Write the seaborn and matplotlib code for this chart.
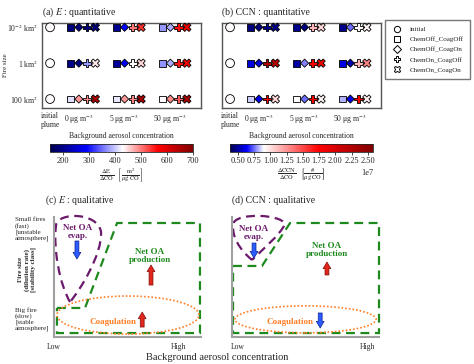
import numpy as np
import pandas as pd
import seaborn as sns
import matplotlib
matplotlib.use("Agg")
import matplotlib.pyplot as plt
from matplotlib.colors import TwoSlopeNorm
from matplotlib.cm import ScalarMappable
from matplotlib.lines import Line2D
from matplotlib.patches import Ellipse, Polygon, PathPatch
from matplotlib.path import Path

# ---- data: quantitative panels ----
fire_labels = ["10$^{-2}$ km$^2$", "1 km$^2$", "100 km$^2$"]
bg_labels = ["0 μg m$^{-3}$", "5 μg m$^{-3}$", "50 μg m$^{-3}$"]
schemes = ["ChemOff_CoagOff", "ChemOff_CoagOn", "ChemOn_CoagOff", "ChemOn_CoagOn"]

# dE/dCO [m2 / ug CO]; one list per fire size, inner lists = background 0, 5, 50
E_init = [430, 430, 430]
E_small = [[188, 185, 190, 188], [205, 288, 500, 538], [372, 385, 555, 580]]
E_mid = [[195, 190, 374, 441], [210, 285, 430, 450], [370, 385, 554, 575]]
E_big = [[413, 484, 490, 657], [418, 484, 495, 657], [430, 490, 515, 657]]

# dCCN/dCO [# / ug CO]
CCN_init = [0.9e7, 0.9e7, 0.9e7]
CCN_small = [[0.45e7, 0.45e7, 0.48e7, 0.47e7], [0.48e7, 0.45e7, 1.14e7, 1.03e7], [0.47e7, 0.75e7, 0.90e7, 0.93e7]]
CCN_mid = [[0.59e7, 0.58e7, 2.24e7, 2.20e7], [0.50e7, 0.77e7, 1.77e7, 1.85e7], [0.60e7, 0.52e7, 1.14e7, 1.30e7]]
CCN_big = [[0.85e7, 0.60e7, 1.80e7, 1.03e7], [0.90e7, 0.75e7, 1.80e7, 0.93e7], [0.82e7, 0.60e7, 1.80e7, 0.95e7]]

# ---- shapes of the qualitative sketches (axes fraction) ----
c_green = [(0.02, 0.242), (0.211, 0.242), (0.429, 0.95), (0.993, 0.95), (0.993, 0.033), (0.02, 0.033)]
c_purple = [(0.109, 0.292), (0.041, 0.433), (-0.007, 0.725), (0.014, 0.933),
            (0.027, 1.042), (0.299, 1.042), (0.32, 0.875),
            (0.327, 0.683), (0.177, 0.392), (0.109, 0.292)]
c_ellipse = (0.503, 0.183, 0.966, 0.317)
d_green = [(0.007, 0.592), (0.204, 0.592), (0.395, 0.95), (1.0, 0.95), (1.0, 0.033), (0.007, 0.033)]
d_purple = [(0.136, 0.642), (0.054, 0.725), (-0.014, 0.85), (0.014, 0.958),
            (0.054, 1.033), (0.327, 1.025), (0.361, 0.942),
            (0.327, 0.85), (0.204, 0.725), (0.136, 0.642)]
d_ellipse = (0.5, 0.147, 0.96, 0.225)

sns.set_style("white")
plt.rcParams["font.family"] = ["Liberation Serif", "DejaVu Serif"]
plt.rcParams["mathtext.fontset"] = "stix"

W, H = 474, 364
fig = plt.figure(figsize=(W / 100, H / 100), dpi=100)


def rect(x0, y0, x1, y1):
    return [x0 / W, 1 - y1 / H, (x1 - x0) / W, (y1 - y0) / H]


cmap = plt.get_cmap("seismic")
markers = {"initial": "o", "ChemOff_CoagOff": "s", "ChemOff_CoagOn": "D",
           "ChemOn_CoagOff": "P", "ChemOn_CoagOn": "X"}
msizes = {"initial": 40, "ChemOff_CoagOff": 24, "ChemOff_CoagOn": 17,
          "ChemOn_CoagOff": 36, "ChemOn_CoagOn": 36}
offsets = [-0.27, -0.09, 0.09, 0.27]
x_init = 0.28


def build_frame(init, rows):
    recs = []
    for i, row in enumerate(rows):
        y = 2 - i
        recs.append(dict(x=x_init, y=y, value=init[i], scheme="initial"))
        for j, grp in enumerate(row):
            for k, v in enumerate(grp):
                recs.append(dict(x=j + 1 + offsets[k], y=y, value=v, scheme=schemes[k]))
    return pd.DataFrame(recs)


def quant_panel(ax, df, norm, title):
    for sc, sub in df.groupby("scheme", sort=False):
        sns.scatterplot(data=sub, x="x", y="y", hue="value", palette=cmap, hue_norm=norm,
                        marker=markers[sc], s=msizes[sc], edgecolor="k", linewidth=0.6,
                        legend=False, ax=ax, clip_on=False, zorder=3)
    ax.set_xlim(0.104, 3.58)
    ax.set_ylim(-0.25, 2.12)
    ax.set_xticks([x_init, 0.9, 1.9, 2.9])
    ax.set_xticklabels(["initial\nplume"] + bg_labels, fontsize=5.5, va="top")
    ax.set_yticks([2, 1, 0])
    ax.set_yticklabels(fire_labels, fontsize=5.5)
    ax.tick_params(length=0, pad=3)
    ax.set_xlabel("Background aerosol concentration", fontsize=5.5, labelpad=2)
    ax.set_ylabel("")
    for s in ax.spines.values():
        s.set_color("#555555")
        s.set_linewidth(1.0)
    ax.set_title(title, loc="left", fontsize=7, pad=6)


# (a)
ax_a = fig.add_axes(rect(42, 23, 201, 108))
norm_a = TwoSlopeNorm(vcenter=430, vmin=150, vmax=700)
quant_panel(ax_a, build_frame(E_init, [E_small, E_mid, E_big]), norm_a, "(a) $E$ : quantitative")
fig.text(6 / W, 1 - 65 / H, "Fire size", rotation=90, fontsize=5, ha="center", va="center")

# (b)
ax_b = fig.add_axes(rect(222, 23, 381, 108))
norm_b = TwoSlopeNorm(vcenter=0.9e7, vmin=0.38e7, vmax=2.58e7)
quant_panel(ax_b, build_frame(CCN_init, [CCN_small, CCN_mid, CCN_big]), norm_b, "(b) CCN : quantitative")
ax_b.set_yticklabels([])

handles = [Line2D([], [], marker=markers[m], ls="", mfc="white", mec="k", mew=0.7,
                  ms=4.5 if m != "ChemOff_CoagOn" else 3.8)
           for m in ["initial"] + schemes]
fig.legend(handles, ["initial"] + schemes, loc="upper left", bbox_to_anchor=(385 / W, 1 - 20 / H),
           fontsize=5, frameon=True, edgecolor="#555555", fancybox=False, borderpad=0.9,
           labelspacing=0.62, handletextpad=1.0, handlelength=1.6, borderaxespad=0)

# colorbars
cax_a = fig.add_axes(rect(50, 144, 193, 152))
cb_a = fig.colorbar(ScalarMappable(norm=norm_a, cmap=cmap), cax=cax_a, orientation="horizontal")
cb_a.ax.set_xscale("linear")
cb_a.set_ticks([200, 300, 400, 500, 600, 700])
cb_a.ax.tick_params(labelsize=6, length=2, width=0.6, pad=1.5)
cb_a.set_label(r"$\frac{\Delta\mathrm{E}}{\Delta\mathrm{CO}}$  $\left[\frac{\mathrm{m}^2}{\mu\mathrm{g\ CO}}\right]$",
               fontsize=6.5, labelpad=1)
cb_a.outline.set_linewidth(0.6)

cax_b = fig.add_axes(rect(230, 144, 373, 152))
cb_b = fig.colorbar(ScalarMappable(norm=norm_b, cmap=cmap), cax=cax_b, orientation="horizontal")
cb_b.ax.set_xscale("linear")
cb_b.set_ticks(np.arange(0.5e7, 2.51e7, 0.25e7))
cb_b.ax.tick_params(labelsize=6, length=2, width=0.6, pad=1.5)
cb_b.ax.xaxis.get_offset_text().set_fontsize(6)
cb_b.set_label(r"$\frac{\Delta\mathrm{CCN}}{\Delta\mathrm{CO}}$  $\left[\frac{\#}{\mu\mathrm{g\ CO}}\right]$",
               fontsize=6.5, labelpad=1)
cb_b.outline.set_linewidth(0.6)

# ---- qualitative panels ----
purple = "#6b1a6b"
green = "#1e8a1e"
orange = "#ff7f27"
blue_fc, blue_ec = "#2a5cff", "#0a1f8f"
red_fc, red_ec = "#e3261b", "#7a0c08"


def teardrop(verts):
    codes = [Path.MOVETO] + [Path.CURVE4] * (len(verts) - 1)
    return PathPatch(Path(verts, codes), fill=False, ec=purple, lw=1.6, ls=(0, (4, 2.5)),
                     clip_on=False)


def arrow(ax, x, y0, y1, fc, ec):
    ax.annotate("", xy=(x, y1), xytext=(x, y0),
                arrowprops=dict(arrowstyle="simple,head_length=0.6,head_width=0.7,tail_width=0.35",
                                fc=fc, ec=ec, lw=0.5, shrinkA=0, shrinkB=0, mutation_scale=8))


def qual_axes(r, ticks):
    ax = fig.add_axes(r)
    ax.set_xlim(0, 1)
    ax.set_ylim(0, 1)
    sns.despine(ax=ax)
    for s in ["left", "bottom"]:
        ax.spines[s].set_color("#a0a0a0")
        ax.spines[s].set_linewidth(1.5)
    ax.set_xticks(ticks)
    ax.set_xticklabels(["Low", "High"], fontsize=5.5)
    ax.set_yticks([])
    ax.tick_params(length=0, pad=4)
    return ax


ax_c = qual_axes(rect(54, 217, 201, 337), [0.0, 0.85])
ax_c.add_patch(Polygon(c_green, closed=True, fill=False, ec=green, lw=1.6, ls=(0, (4, 2.5)), clip_on=False))
ax_c.add_patch(teardrop(c_purple))
ax_c.add_patch(Ellipse(c_ellipse[:2], c_ellipse[2], c_ellipse[3], fill=False, ec=orange, lw=1.2,
                       ls=(0, (1, 1.2)), clip_on=False))
ax_c.text(0.163, 0.875, "Net OA\nevap.", color=purple, fontsize=6.5, weight="bold", ha="center",
          va="center", linespacing=1.1)
ax_c.text(0.653, 0.675, "Net OA\nproduction", color=green, fontsize=6.5, weight="bold", ha="center",
          va="center", linespacing=1.1)
ax_c.text(0.40, 0.125, "Coagulation", color=orange, fontsize=6.5, weight="bold", ha="center", va="center")
arrow(ax_c, 0.156, 0.80, 0.65, blue_fc, blue_ec)
arrow(ax_c, 0.66, 0.433, 0.60, red_fc, red_ec)
arrow(ax_c, 0.60, 0.083, 0.208, red_fc, red_ec)
ax_c.text(-0.265, 1.0, "Small fires\n(fast)\n[unstable\natmosphere]", fontsize=5, ha="left", va="top",
          transform=ax_c.transAxes, linespacing=1.15)
ax_c.text(-0.265, 0.25, "Big fire\n(slow)\n[stable\natmosphere]", fontsize=5, ha="left", va="top",
          transform=ax_c.transAxes, linespacing=1.15)
ax_c.text(-0.184, 0.56, "Fire size\n(dilution rate)\n[stability class]", fontsize=5, weight="bold",
          rotation=90, ha="center", va="center", transform=ax_c.transAxes, linespacing=1.1)
fig.text(45 / W, 1 - 200 / H, "(c) $E$ : qualitative", fontsize=7, ha="left", va="center")

ax_d = qual_axes(rect(232, 217, 379, 337), [0.04, 0.92])
ax_d.add_patch(Polygon(d_green, closed=True, fill=False, ec=green, lw=1.6, ls=(0, (4, 2.5)), clip_on=False))
ax_d.add_patch(teardrop(d_purple))
ax_d.add_patch(Ellipse(d_ellipse[:2], d_ellipse[2], d_ellipse[3], fill=False, ec=orange, lw=1.2,
                       ls=(0, (1, 1.2)), clip_on=False))
ax_d.text(0.15, 0.867, "Net OA\nevap.", color=purple, fontsize=6.5, weight="bold", ha="center",
          va="center", linespacing=1.1)
ax_d.text(0.646, 0.725, "Net OA\nproduction", color=green, fontsize=6.5, weight="bold", ha="center",
          va="center", linespacing=1.1)
ax_d.text(0.395, 0.125, "Coagulation", color=orange, fontsize=6.5, weight="bold", ha="center", va="center")
arrow(ax_d, 0.15, 0.783, 0.658, blue_fc, blue_ec)
arrow(ax_d, 0.646, 0.517, 0.625, red_fc, red_ec)
arrow(ax_d, 0.60, 0.20, 0.075, blue_fc, blue_ec)
fig.text(232 / W, 1 - 200 / H, "(d) CCN : qualitative", fontsize=7, ha="left", va="center")

fig.text(217 / W, 1 - 357 / H, "Background aerosol concentration", fontsize=7.5, ha="center", va="center")

fig.savefig("out.png", dpi=100)
